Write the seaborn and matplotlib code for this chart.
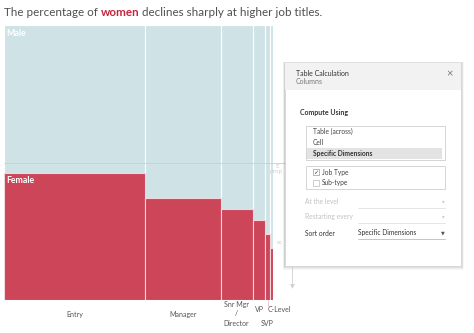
import numpy as np
import pandas as pd
import matplotlib
matplotlib.use("Agg")
import matplotlib.pyplot as plt
import seaborn as sns
from matplotlib.patches import Rectangle

# ---- data -------------------------------------------------------------
job_types = ["Entry", "Manager", "Snr Mgr\n/\nDirector", "VP", "SVP", "C-Level"]
share_of_employees = [52.6, 27.9, 11.9, 4.8, 1.7, 1.1]   # column widths (%)
female_pct = [46.2, 37.1, 33.1, 29.1, 24.0, 18.9]
male_pct = [100 - f for f in female_pct]

# ---- style ------------------------------------------------------------
MALE = "#cfe3e7"
FEMALE = "#cc4559"
TEXT = "#555555"
sns.set_theme(style="white")
plt.rcParams["font.family"] = ["Lato", "DejaVu Sans"]

edges = np.concatenate([[0], np.cumsum(share_of_employees)])
edges = edges / edges[-1] * 100
mids = (edges[:-1] + edges[1:]) / 2
bin_edges = [float(e) for e in edges]
df = pd.DataFrame({"job": job_types, "mid": mids,
                   "female": female_pct, "male": male_pct})
df["total"] = df["female"] + df["male"]

W, H = 474, 333
fig = plt.figure(figsize=(W / 100, H / 100), dpi=100)
fig.patch.set_facecolor("white")
ax = fig.add_axes([4 / W, 1 - 300 / H, 269 / W, 275 / H])

# Marimekko: variable-width columns, full height = 100 %
sns.histplot(data=df, x="mid", weights="total", bins=bin_edges, stat="count",
             color=MALE, alpha=1, edgecolor="white", linewidth=0.8, ax=ax)
sns.histplot(data=df, x="mid", weights="female", bins=bin_edges, stat="count",
             color=FEMALE, alpha=1, edgecolor="#f3d6db", linewidth=0.8, ax=ax)
ax.set_xlim(0, 100)
ax.set_ylim(0, 100)
ax.set_xticks([])
ax.set_yticks([])
ax.set_xlabel("")
ax.set_ylabel("")
for s in ax.spines.values():
    s.set_visible(False)

# 50 % reference line
ax.plot([0, 105.5], [50, 50], color="#c6d0d2", lw=0.6, clip_on=False, zorder=3)

ax.text(0.8, 98.5, "Male", color="white", fontsize=6.3, fontweight="bold",
        va="top", ha="left")
ax.text(0.8, female_pct[0] - 1.0, "Female", color="white", fontsize=6.3,
        fontweight="bold", va="top", ha="left")

# category labels below the columns (staggered where columns are narrow)
label_dy = [14, 14, 14, 9, 23, 9]     # px below the plot bottom
label_dx = [0, 0, 0, 0, -1, 8]        # px sideways
for lab, m, dy, dx in zip(job_types, mids, label_dy, label_dx):
    ax.annotate(lab, xy=(m, 0), xycoords="data",
                xytext=(dx, -dy), textcoords="offset pixels",
                ha="center", va="center", fontsize=5.0, color=TEXT,
                linespacing=1.35, annotation_clip=False)

# ---- overlay in pixel coordinates -------------------------------------
ov = fig.add_axes([0, 0, 1, 1], zorder=5)
ov.set_xlim(0, W)
ov.set_ylim(H, 0)
ov.axis("off")
ov.patch.set_alpha(0)

# title with highlighted word
r = fig.canvas.get_renderer()
parts = [("The percentage of ", "#505050", "normal"), ("women", "#c4243d", "bold"),
         (" declines sharply at higher job titles.", "#505050", "normal")]
x0 = 4
for txt, col, wt in parts:
    t = ov.text(x0, 12, txt, color=col, fontsize=8.4, fontweight=wt,
                va="center", ha="left")
    bb = t.get_window_extent(renderer=r)
    x0 += bb.width

# faint items behind the dialog
ov.text(275, 166, "E", color="#d0d0d0", fontsize=4.5, va="center")
ov.text(270, 172, "prop", color="#d0d0d0", fontsize=4.5, va="center")
ov.text(277, 243, "ec", color="#d0d0d0", fontsize=4.5, va="center")
ov.plot([292, 292], [266, 285], color="#cfcfcf", lw=0.6)
ov.text(292, 287, "▼", color="#cfcfcf", fontsize=4.5, ha="center", va="center",
        family=["DejaVu Sans"])
ov.plot([268, 268], [300, 306], color="#e7c3c9", lw=0.6)

# dialog shadow
for i, a in enumerate([0.03, 0.04, 0.05, 0.06]):
    k = 4 - i
    ov.add_patch(Rectangle((285 - k * 0.5, 63 - k * 0.3), 176 + k * 1.3, 203 + k * 1.3,
                           facecolor="black", alpha=a, lw=0))
# dialog body and header
ov.add_patch(Rectangle((285, 63), 176, 203, facecolor="white",
                       edgecolor="#d6d6d6", lw=0.6))
ov.add_patch(Rectangle((285.3, 63.3), 175.4, 27, facecolor="#f2f2f2", lw=0))
ov.text(296, 73, "Table Calculation", fontsize=5.0, color="#333333", va="center")
ov.text(296, 82, "Columns", fontsize=5.0, color="#777777", va="center")
ov.text(450, 74, "×", fontsize=8, color="#777777", va="center", ha="center")
ov.text(300, 113, "Compute Using", fontsize=5.0, color="#333333",
        fontweight="bold", va="center")

# compute-using list
ov.add_patch(Rectangle((306, 126), 139, 34, facecolor="white",
                       edgecolor="#cfcfcf", lw=0.6))
ov.add_patch(Rectangle((307, 148), 135, 11, facecolor="#e3e3e3", lw=0))
ov.text(313, 131.5, "Table (across)", fontsize=4.8, color="#444444", va="center")
ov.text(313, 142.5, "Cell", fontsize=4.8, color="#444444", va="center")
ov.text(313, 153.5, "Specific Dimensions", fontsize=4.8, color="#333333",
        fontweight="bold", va="center")

# dimension checkboxes
ov.add_patch(Rectangle((306, 166), 139, 23, facecolor="white",
                       edgecolor="#cfcfcf", lw=0.6))
ov.add_patch(Rectangle((313, 169), 6, 6, facecolor="white",
                       edgecolor="#999999", lw=0.5))
ov.text(316, 172.3, "✓", fontsize=4.5, color="#444444", ha="center", va="center",
        family=["DejaVu Sans"])
ov.add_patch(Rectangle((313, 180), 6, 6, facecolor="white",
                       edgecolor="#bbbbbb", lw=0.5))
ov.text(322, 172, "Job Type", fontsize=4.8, color="#444444", va="center")
ov.text(322, 183, "Sub-type", fontsize=4.8, color="#444444", va="center")

# disabled and active dropdowns
ov.text(305, 202, "At the level", fontsize=4.8, color="#c2c2c2", va="center")
ov.plot([358, 445], [208, 208], color="#e0e0e0", lw=0.6)
ov.text(443, 202, "▾", fontsize=4, color="#cccccc", ha="center", va="center",
        family=["DejaVu Sans"])
ov.text(305, 217, "Restarting every", fontsize=4.8, color="#c2c2c2", va="center")
ov.plot([358, 445], [223, 223], color="#e0e0e0", lw=0.6)
ov.text(443, 217, "▾", fontsize=4, color="#cccccc", ha="center", va="center",
        family=["DejaVu Sans"])
ov.text(305, 233, "Sort order", fontsize=4.8, color="#333333", va="center")
ov.text(358, 233, "Specific Dimensions", fontsize=4.8, color="#333333", va="center")
ov.plot([358, 445], [239, 239], color="#bbbbbb", lw=0.6)
ov.text(443, 233, "▼", fontsize=3.5, color="#555555", ha="center", va="center",
        family=["DejaVu Sans"])

fig.savefig("out.png", dpi=100, facecolor="white")
